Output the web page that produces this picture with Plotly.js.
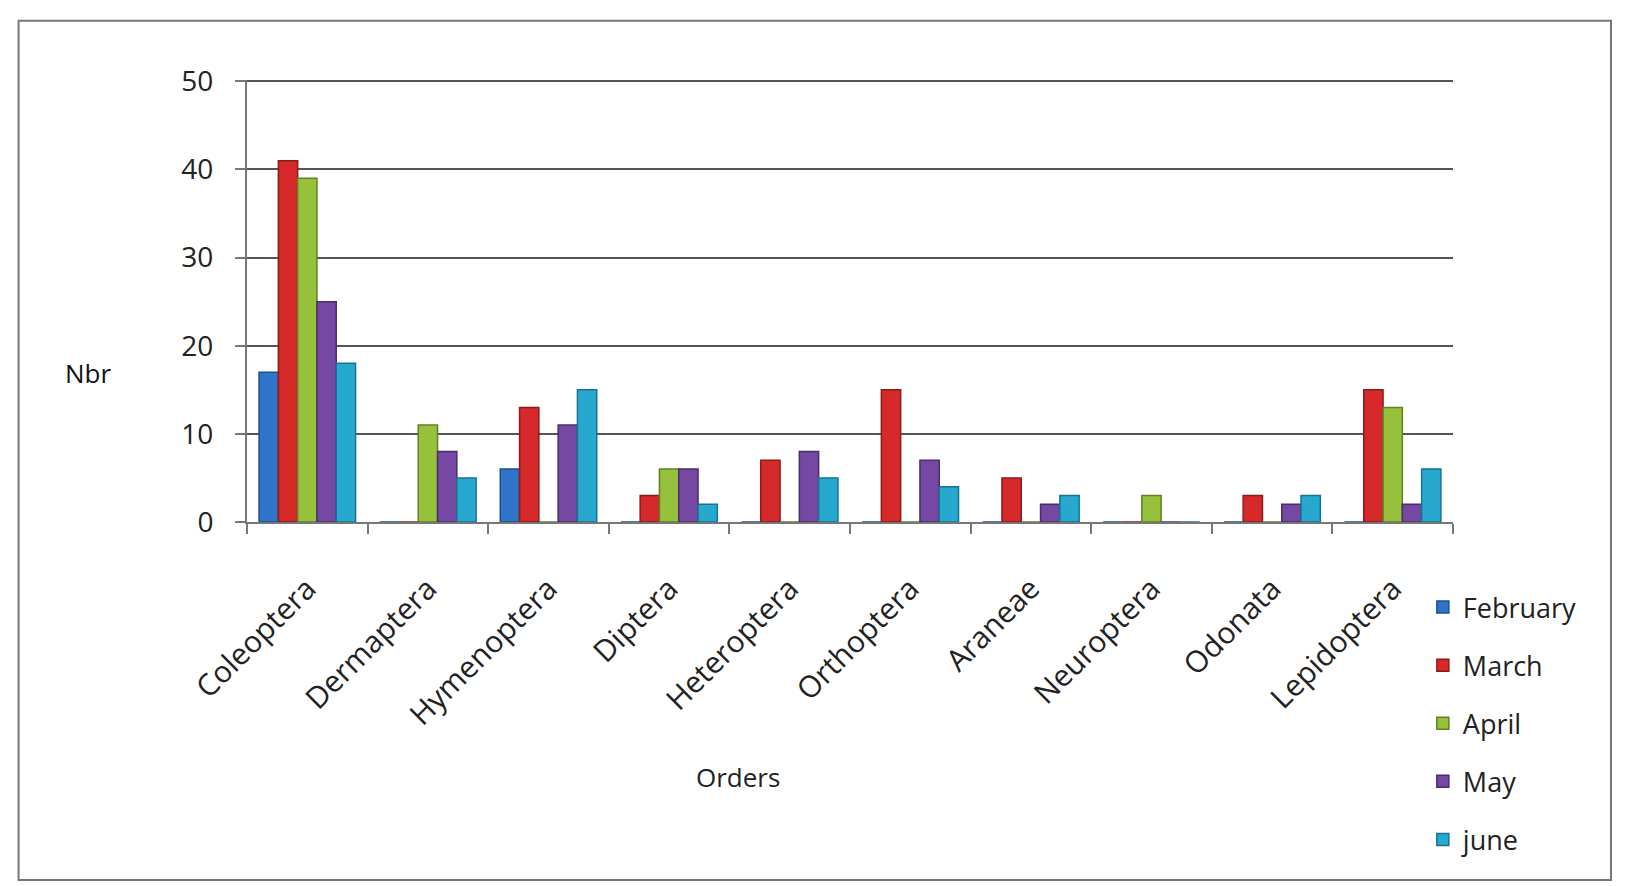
<!DOCTYPE html>
<html>
<head>
<meta charset="utf-8">
<script src="https://cdn.plot.ly/plotly-3.0.1.min.js"></script>
<style>
html,body{margin:0;padding:0;background:#fff;}
#chart{width:1626px;height:886px;}
</style>
</head>
<body>
<div id="chart"></div>
<script>
const orders = ["Coleoptera","Dermaptera","Hymenoptera","Diptera","Heteroptera","Orthoptera","Araneae","Neuroptera","Odonata","Lepidoptera"];
const february = [17, 0, 6, 0, 0, 0, 0, 0, 0, 0];
const march    = [41, 0, 13, 3, 7, 15, 5, 0, 3, 15];
const april    = [39, 11, 0, 6, 0, 0, 0, 3, 0, 13];
const may      = [25, 8, 11, 6, 8, 7, 2, 0, 2, 2];
const june     = [18, 5, 15, 2, 5, 4, 3, 0, 3, 6];
const seriesNames = ["February","March","April","May","june"];
const yTicks = [0,10,20,30,40,50];

const seriesData = [february, march, april, may, june];
const colors = ["#2f74c8","#d6292a","#97c13c","#7549a3","#27a9cf"];
const lineColors = ["#1f4f8a","#8e1a1a","#5f8024","#4a2c6c","#187391"];

const traces = seriesData.map((vals, i) => ({
  type: "bar",
  name: seriesNames[i],
  x: orders,
  y: vals,
  legendgroup: "g" + i,
  marker: {color: colors[i], line: {color: lineColors[i], width: 1.5}}
}));

const layout = {
  width: 1626, height: 886,
  paper_bgcolor: "#fff", plot_bgcolor: "#fff",
  margin: {l: 247, r: 173, t: 80, b: 364},
  barmode: "group",
  bargap: 0.2,
  bargroupgap: 0,
  font: {family: "Open Sans, Liberation Sans, sans-serif", color: "#222"},
  showlegend: true,
  legend: {
    x: 0.975, y: -0.138, xanchor: "left", yanchor: "top",
    font: {size: 27, color: "#222"},
    tracegroupgap: 20,
    bgcolor: "rgba(0,0,0,0)"
  },
  xaxis: {
    type: "category",
    tickangle: -45,
    tickfont: {size: 30, color: "#222"},
    showline: true, linecolor: "#777", linewidth: 2,
    ticks: "outside", ticklen: 10, tickcolor: "#777", tickwidth: 2,
    tickson: "boundaries",
    ticklabelstandoff: 35,
    showgrid: false
  },
  yaxis: {
    range: [0, 50.15],
    tickvals: yTicks,
    ticktext: yTicks.map(String),
    tickfont: {size: 28, color: "#222"},
    showline: true, linecolor: "#777", linewidth: 2,
    ticks: "outside", ticklen: 10, tickcolor: "#777", tickwidth: 2,
    ticklabelstandoff: 16,
    showgrid: true, gridcolor: "#555", gridwidth: 2,
    zeroline: false
  },
  annotations: [
    {text: "Nbr", xref: "paper", yref: "paper", x: -0.1318, y: 0.337,
     xanchor: "center", yanchor: "middle", showarrow: false,
     font: {size: 26, color: "#111"}},
    {text: "Orders", xref: "paper", yref: "paper", x: 0.407, y: -0.577,
     xanchor: "center", yanchor: "middle", showarrow: false,
     font: {size: 26, color: "#222"}}
  ],
  shapes: [
    {type: "rect", xref: "paper", yref: "paper",
     x0: -0.1894, x1: 1.131, y0: -0.81, y1: 1.134,
     line: {color: "#777", width: 2}, fillcolor: "rgba(0,0,0,0)", layer: "below"}
  ]
};

Plotly.newPlot("chart", traces, layout, {displayModeBar: false, staticPlot: true});
</script>
</body>
</html>
